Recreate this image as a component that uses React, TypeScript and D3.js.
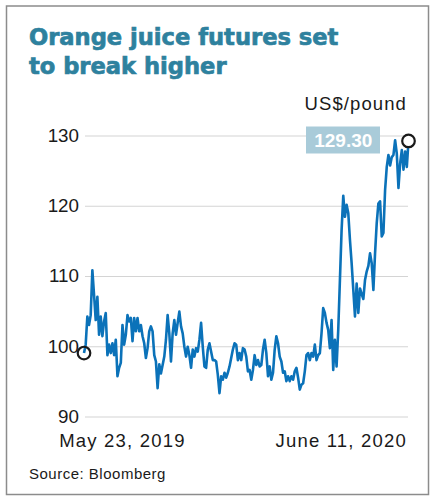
import { useEffect, useRef } from 'react';
import * as d3 from 'd3';

// Orange juice futures, US$/pound, May 23 2019 -> June 11 2020
const priceEarly = [
  99.1, 100.3, 104.3, 103.1, 104.5, 110.9, 107.4, 103.8, 107.1, 101.7,
  104.3, 101.5, 103.6, 104.8, 98.8, 100.3, 99.1, 100.5, 98.8, 101.0,
  95.8, 97.0, 97.7, 103.1, 100.3, 101.7, 104.5, 103.6, 104.1, 100.8,
  104.1, 102.2, 104.1, 102.2, 103.1, 101.5, 100.5, 98.4, 99.8, 102.2,
  102.9, 102.2, 98.8, 97.9, 94.1, 97.5, 96.2, 97.4, 98.6, 101.0, 104.5,
];
const priceLate2019 = [
  101.9, 97.9, 101.9, 103.8, 101.7, 103.4, 105.0, 102.9, 101.9, 100.0,
  98.6, 100.0, 98.8, 97.0, 99.6, 98.6, 99.8, 99.3, 101.0, 103.4,
  100.0, 97.2, 97.0, 99.6, 100.5, 99.3, 98.1, 98.1, 97.9, 96.0,
  93.4, 95.8, 95.3, 96.3, 95.6, 96.3, 97.2, 98.4, 99.6, 100.5,
  100.3, 98.1, 99.1, 98.1, 99.8, 99.6, 98.6,
];
const priceEarly2020 = [
  96.5, 96.7, 95.3, 96.7, 98.8, 97.4, 98.1, 97.2, 97.4, 99.6,
  101.0, 99.1, 95.8, 97.2, 95.3, 96.3, 99.6, 101.5, 100.5, 98.6,
  97.9, 96.3, 96.5, 95.1, 95.8, 95.1, 95.8, 95.3, 96.5, 97.0,
  95.6, 93.9, 94.6, 94.8, 96.5, 98.8, 99.1, 98.1, 99.1, 98.6,
  100.3, 98.1, 98.8, 99.1, 101.9, 105.5, 104.8, 103.4, 102.4, 99.8,
  103.8, 96.7,
];
const priceRally = [
  101.0, 97.2, 102.4, 109.5, 116.6, 121.5, 118.5, 120.2, 119.0, 115.2,
  111.9, 108.1, 104.3, 109.0, 104.8, 108.3, 107.5, 106.8, 109.5, 110.7,
  111.5, 113.3, 111.9, 108.1, 113.3, 117.6, 120.4, 120.7, 115.7, 116.2,
  122.3, 125.6, 127.3, 125.8, 127.0, 127.3, 129.4, 127.5, 122.6, 126.1,
  128.0, 125.2, 127.8, 125.6, 129.3,
];
const prices = [...priceEarly, ...priceLate2019, ...priceEarly2020, ...priceRally];

const yTicks = [90, 100, 110, 120, 130];
const dateLabels = ['May 23, 2019', 'June 11, 2020'];
const lastLabel = '129.30';

const W = 436;
const H = 500;
const SANS = '"Liberation Sans", Arial, Helvetica, sans-serif';

export default function App() {
  const svgRef = useRef<SVGSVGElement>(null);

  useEffect(() => {
    if (!svgRef.current) return;
    const svg = d3.select(svgRef.current);
    svg.selectAll('*').remove();

    const x = d3.scaleLinear().domain([0, prices.length - 1]).range([84, 408.5]);
    const y = d3.scaleLinear().domain([90, 130]).range([417, 136]);

    // frame
    svg.append('rect')
      .attr('x', 6.5).attr('y', 6).attr('width', 422).attr('height', 488.5)
      .attr('fill', '#fff').attr('stroke', '#8c8c8c').attr('stroke-width', 1.5);

    // title
    const title = svg.append('text')
      .attr('font-family', '"DejaVu Sans", sans-serif')
      .attr('font-weight', 'bold')
      .attr('font-size', 22.6)
      .attr('fill', '#2e819e')
      .attr('stroke', '#2e819e')
      .attr('stroke-width', 0.7);
    title.append('tspan').attr('x', 29).attr('y', 44.5).text('Orange juice futures set');
    title.append('tspan').attr('x', 29).attr('y', 73.5).text('to break higher');

    svg.append('text')
      .attr('x', 407).attr('y', 110)
      .attr('text-anchor', 'end')
      .attr('font-family', SANS).attr('font-size', 18.5)
      .attr('letter-spacing', 1.1)
      .attr('fill', '#1a1a1a')
      .text('US$/pound');

    // grid + tick labels
    const grid = svg.append('g');
    yTicks.forEach(t => {
      grid.append('line')
        .attr('x1', 85).attr('x2', 408)
        .attr('y1', y(t)).attr('y2', y(t))
        .attr('stroke', '#d4d4d4').attr('stroke-width', 1.2);
      grid.append('text')
        .attr('x', 79).attr('y', y(t) + 5.8)
        .attr('text-anchor', 'end')
        .attr('font-family', SANS).attr('font-size', 18.8)
        .attr('fill', '#1a1a1a')
        .text(t);
    });

    // value label box
    svg.append('rect')
      .attr('x', 306).attr('y', y(130) - 9.5).attr('width', 74).attr('height', 27)
      .attr('fill', '#a9cbd9');
    svg.append('text')
      .attr('x', 343.3).attr('y', y(130) + 10.8)
      .attr('text-anchor', 'middle')
      .attr('font-family', SANS).attr('font-weight', 'bold').attr('font-size', 19)
      .attr('fill', '#fff')
      .text(lastLabel);

    // price line
    const line = d3.line<number>()
      .x((_, i) => x(i))
      .y(d => y(d));
    svg.append('path')
      .datum(prices)
      .attr('d', line)
      .attr('fill', 'none')
      .attr('stroke', '#0b72b9')
      .attr('stroke-width', 2.6)
      .attr('stroke-linejoin', 'round');

    // start / end markers
    [0, prices.length - 1].forEach(i => {
      svg.append('circle')
        .attr('cx', x(i)).attr('cy', y(prices[i]))
        .attr('r', 6.3)
        .attr('fill', i === 0 ? 'none' : '#fff')
        .attr('stroke', '#1a1a1a')
        .attr('stroke-width', 2.2);
    });

    // date labels
    svg.append('text')
      .attr('x', 122.5).attr('y', 446.5)
      .attr('text-anchor', 'middle')
      .attr('font-family', SANS).attr('font-size', 18.5)
      .attr('letter-spacing', 1.2)
      .attr('fill', '#1a1a1a')
      .text(dateLabels[0]);
    svg.append('text')
      .attr('x', 407).attr('y', 446.5)
      .attr('text-anchor', 'end')
      .attr('font-family', SANS).attr('font-size', 18.5)
      .attr('letter-spacing', 1.2)
      .attr('fill', '#1a1a1a')
      .text(dateLabels[1]);

    svg.append('text')
      .attr('x', 29).attr('y', 479)
      .attr('font-family', SANS).attr('font-size', 15)
      .attr('letter-spacing', 0.5)
      .attr('fill', '#1a1a1a')
      .text('Source: Bloomberg');
  }, []);

  return (
    <svg
      ref={svgRef}
      width={W}
      height={H}
      style={{ position: 'absolute', left: 0, top: 0, background: '#fff' }}
    />
  );
}
